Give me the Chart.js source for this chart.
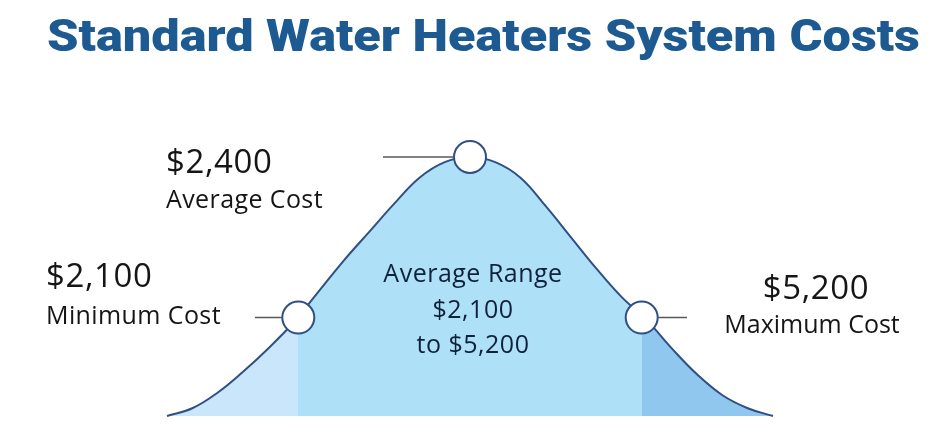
<!DOCTYPE html>
<html lang="en">
<head>
  <meta charset="UTF-8" />
  <title>Standard Water Heaters System Costs</title>
  <style>
    * { box-sizing: border-box; margin: 0; padding: 0; }
    body { background: #fff; width: 940px; height: 434px; overflow: hidden; }
    #wrap { position: relative; width: 940px; height: 434px; }
  </style>
  <script src="https://cdn.jsdelivr.net/npm/chart.js"></script>
</head>
<body>
  <div id="wrap"><canvas id="bell"></canvas></div>

  <script>
    // bell curve heights (0 = baseline, 100 = peak)
    const curveX = [0, 1, 2, 3, 4, 5, 6, 7, 8, 9, 10, 11, 12, 13, 14, 15, 16, 17, 18, 19, 20, 21, 22, 23, 24];
    const curveY = [0, 3, 9, 17, 26, 36, 48, 60, 71, 82, 92, 98, 100, 98, 92, 81, 69, 57, 46, 37, 26, 16, 8, 3, 0];

    // the three marked points: minimum, average, maximum
    const markerX = [5.2, 12, 18.8];
    const markerY = [38, 100, 38];
    const markerValues = ['$2,100', '$2,400', '$5,200'];
    const markerNames = ['Minimum Cost', 'Average Cost', 'Maximum Cost'];
    const rangeText = ['Average Range', '$2,100', 'to $5,200'];
    const titleText = 'Standard Water Heaters System Costs';

    const lineColor = '#2f4f85';
    const textColor = '#151515';

    function bandFill(c) {
      const chart = c.chart;
      const area = chart.chartArea;
      if (!area) return '#aee0f8';
      const xs = chart.scales.x;
      const g = chart.ctx.createLinearGradient(area.left, 0, area.right, 0);
      const w = area.right - area.left;
      const a = (xs.getPixelForValue(markerX[0]) - area.left) / w;
      const b = (xs.getPixelForValue(markerX[2]) - area.left) / w;
      g.addColorStop(0, '#c9e6fb');
      g.addColorStop(a, '#c9e6fb');
      g.addColorStop(a, '#aee0f8');
      g.addColorStop(b, '#aee0f8');
      g.addColorStop(b, '#90c7ee');
      g.addColorStop(1, '#90c7ee');
      return g;
    }

    const labelsPlugin = {
      id: 'labels',
      afterDraw(chart) {
        const ctx = chart.ctx;
        const xs = chart.scales.x, ys = chart.scales.y;
        const px = markerX.map(v => xs.getPixelForValue(v));
        const py = markerY.map(v => ys.getPixelForValue(v));
        ctx.save();

        // title
        ctx.fillStyle = '#1d5a92';
        ctx.font = '900 43px Roboto';
        ctx.textBaseline = 'alphabetic';
        ctx.textAlign = 'left';
        const tw = ctx.measureText(titleText).width;
        ctx.save();
        ctx.translate(47, 51);
        ctx.scale(873 / tw, 1.05);
        ctx.fillText(titleText, 0, 0);
        ctx.restore();

        const big = '33px "Open Sans"';
        const small = '25px "Open Sans"';
        ctx.fillStyle = textColor;

        // average (peak) label
        ctx.textAlign = 'left';
        ctx.letterSpacing = '0.6px';
        ctx.font = big;
        ctx.fillText(markerValues[1], 166, py[1] + 16);
        ctx.font = small;
        ctx.letterSpacing = '0.4px';
        ctx.fillText(markerNames[1], 166, py[1] + 51);

        // minimum label
        ctx.letterSpacing = '0.6px';
        ctx.font = big;
        ctx.fillText(markerValues[0], 46, py[0] - 31);
        ctx.font = small;
        ctx.letterSpacing = '0.4px';
        ctx.fillText(markerNames[0], 46, py[0] + 6);

        // maximum label
        ctx.textAlign = 'center';
        ctx.letterSpacing = '0.6px';
        ctx.font = big;
        ctx.fillText(markerValues[2], 816, py[2] - 19);
        ctx.font = small;
        ctx.letterSpacing = '0px';
        ctx.fillText(markerNames[2], 812, py[2] + 15);

        // range text in the middle
        ctx.fillStyle = '#10213a';
        ctx.font = small;
        ctx.letterSpacing = '0.5px';
        rangeText.forEach((t, i) => ctx.fillText(t, px[1] + 3, 282 + i * 35.5));

        // connector lines
        ctx.letterSpacing = '0px';
        ctx.strokeStyle = '#5a5a5a';
        ctx.lineWidth = 1.5;
        ctx.beginPath();
        ctx.moveTo(383, py[1]); ctx.lineTo(px[1] - 16, py[1]);
        ctx.moveTo(255, py[0]); ctx.lineTo(px[0] - 16, py[0]);
        ctx.moveTo(px[2] + 16, py[2]); ctx.lineTo(687, py[2]);
        ctx.stroke();
        ctx.restore();
      }
    };

    new Chart(document.getElementById('bell'), {
      type: 'line',
      data: {
        datasets: [
          {
            type: 'scatter',
            data: markerX.map((x, i) => ({ x, y: markerY[i] })),
            pointRadius: 16,
            pointBackgroundColor: '#ffffff',
            pointBorderColor: lineColor,
            pointBorderWidth: 2,
            clip: false,
            order: 0
          },
          {
            data: curveX.map((x, i) => ({ x, y: curveY[i] })),
            borderColor: lineColor,
            borderWidth: 2,
            backgroundColor: bandFill,
            fill: 'origin',
            tension: 0.4,
            pointRadius: 0,
            clip: false,
            order: 1
          }
        ]
      },
      options: {
        responsive: true,
        maintainAspectRatio: false,
        animation: false,
        layout: { padding: { left: 167, right: 167, top: 157, bottom: 16 } },
        scales: {
          x: { type: 'linear', min: 0, max: 24, display: false },
          y: { min: 0, max: 100, display: false }
        },
        plugins: { legend: { display: false }, tooltip: { enabled: false } }
      },
      plugins: [labelsPlugin]
    });
  </script>
</body>
</html>
